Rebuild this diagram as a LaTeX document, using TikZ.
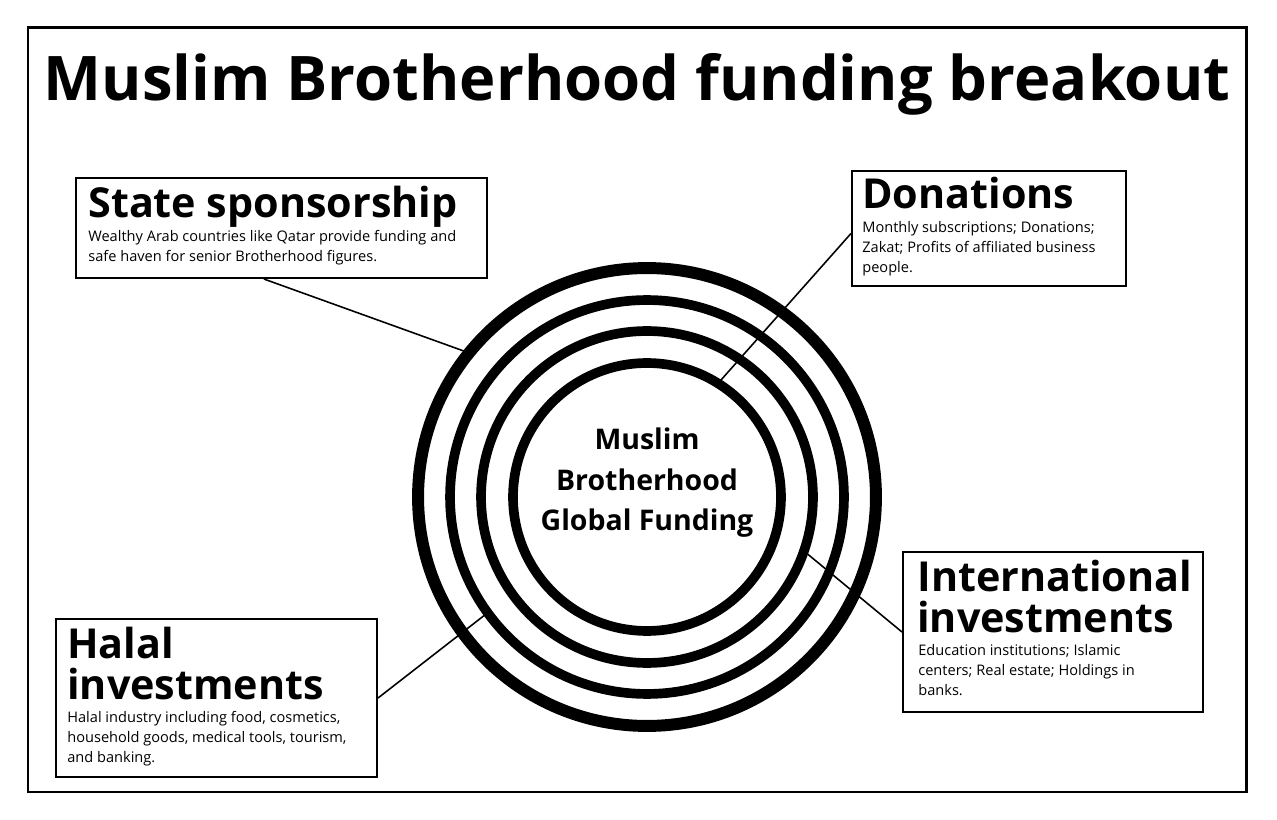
\documentclass[tikz,border=0pt]{standalone}
\usepackage{fontspec}
\setmainfont{Open Sans}
\usepackage{tikz}
\tikzset{
  box/.style={draw, line width=1.2pt, inner sep=0pt},
  ring/.style={draw, circle, inner sep=0pt, outer sep=0pt},
  head/.style={anchor=base west, inner sep=0pt, font=\fontsize{23.5}{23}\selectfont\bfseries, align=left},
  body/.style={anchor=north west, inner sep=0pt, font=\fontsize{8.3}{11.5}\selectfont, align=left},
  link/.style={line width=0.9pt}
}
\begin{document}
\begin{tikzpicture}[x=0.02cm, y=-0.02cm]
\useasboundingbox (0,0) rectangle (1277,820);
\draw[line width=1.7pt] (28,28) rectangle (1246,792);
\node (title) at (637,84) {\fontsize{35}{40}\selectfont\bfseries Muslim Brotherhood funding breakout};
% rings
\node[ring, line width=6.8pt, minimum size=9.16cm] (ring1) at (647,497) {};
\node[ring, line width=5.5pt, minimum size=7.88cm] (ring2) at (647,497) {};
\node[ring, line width=5.5pt, minimum size=6.64cm] (ring3) at (647,497) {};
\node[ring, line width=5.5pt, minimum size=5.36cm] (ring4) at (647,497) {};
\node[align=center, font=\fontsize{16.2}{23}\selectfont\bfseries] (core) at (647,483) {Muslim\\Brotherhood\\Global Funding};
% boxes
\node[box, minimum width=8.22cm, minimum height=2.0cm] (state) at (281.5,228) {};
\node[box, minimum width=5.48cm, minimum height=2.3cm] (donat) at (989,228.5) {};
\node[box, minimum width=6.0cm, minimum height=3.2cm] (intl) at (1053,632) {};
\node[box, minimum width=6.42cm, minimum height=3.16cm] (halal) at (216.5,698) {};
% texts
\node[head] (stateH) at (88,218) {State sponsorship};
\node[body] (stateB) at (88,230) {Wealthy Arab countries like Qatar provide funding and\\safe haven for senior Brotherhood figures.};
\node[head] (donatH) at (862,209) {Donations};
\node[body] (donatB) at (862,221) {Monthly subscriptions; Donations;\\Zakat; Profits of affiliated business\\people.};
\node[head] (intlH) at (917,632) {International\\investments};
\node[body] (intlB) at (918,644) {Education institutions; Islamic\\centers; Real estate; Holdings in\\banks.};
\node[head] (halalH) at (67,699) {Halal\\investments};
\node[body] (halalB) at (67,711) {Halal industry including food, cosmetics,\\household goods, medical tools, tourism,\\and banking.};
% connectors
\draw[link] (state.south west) ++(189,0) coordinate (s0) -- (ring1.141);
\draw[link] (donat.west) ++(0,5) coordinate (d0) -- (ring4.58);
\draw[link] (intl.west) -- (ring3.-19);
\draw[link] (halal.east) -- (ring2.216);
\end{tikzpicture}
\end{document}
